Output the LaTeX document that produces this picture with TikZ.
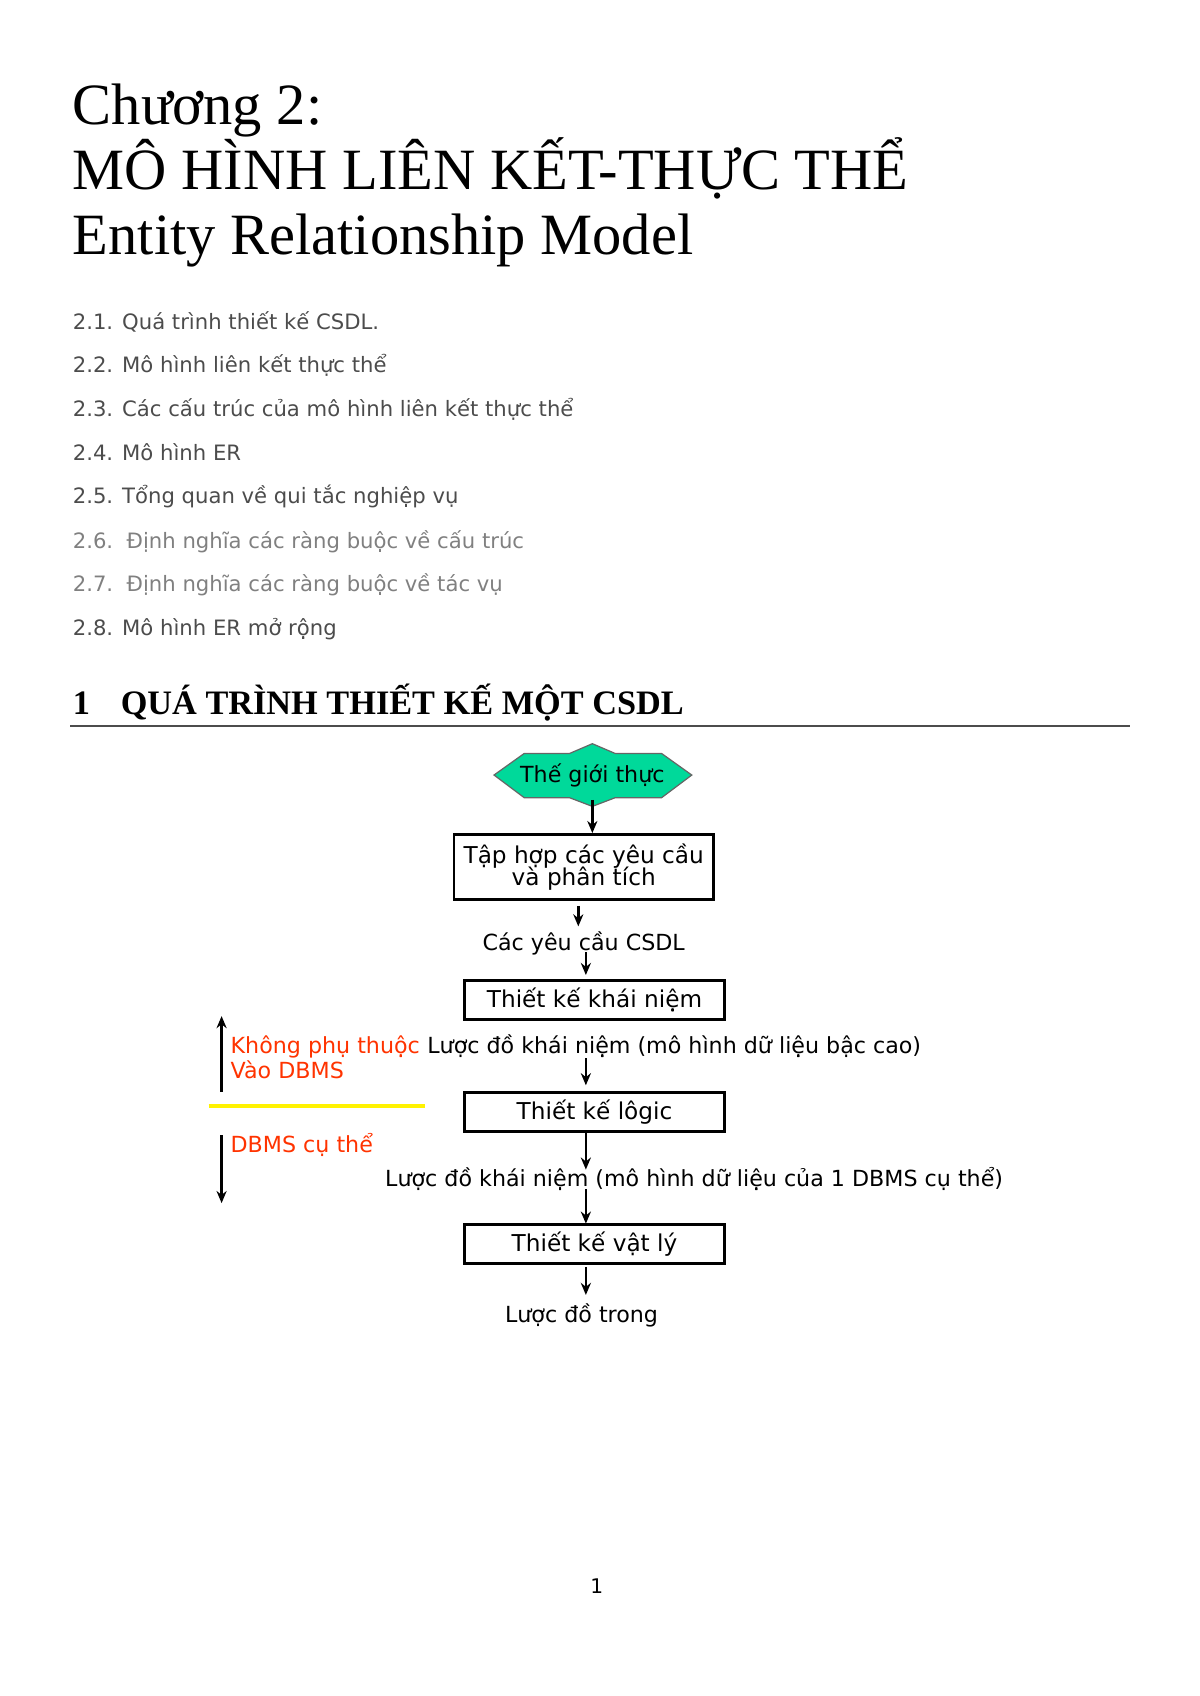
\documentclass[tikz,border=0pt]{standalone}
\usepackage{fontspec}
\setmainfont{Liberation Serif}
\newfontfamily\dv{DejaVu Sans}
\usetikzlibrary{arrows.meta}
\definecolor{tgreen}{HTML}{00D99A}
\definecolor{tred}{HTML}{FF3300}
\begin{document}
\begin{tikzpicture}[x=0.536pt,y=-0.536pt,
  title/.style={anchor=base west,inner sep=0,font=\fontsize{29}{30}\selectfont},
  item/.style={anchor=base west,inner sep=0,font=\dv\fontsize{10.5}{12}\selectfont,text=black!70},
  litem/.style={item,text=black!50},
  fbox/.style={draw,line width=1.4pt,minimum width=240*0.536pt,minimum height=36*0.536pt,inner sep=0,font=\dv\fontsize{11.5}{13}\selectfont},
  ftxt/.style={inner sep=0,font=\dv\fontsize{11}{13}\selectfont},
  rtxt/.style={ftxt,anchor=base west,text=tred},
  arr/.style={-{Stealth[length=6pt,width=5pt]},line width=1.2pt}]
\useasboundingbox (0,0) rectangle (1110,1569);
\node[title] (t1) at (67,115) {Chương 2:};
\node[title] (t2) at (67,175) {MÔ HÌNH LIÊN KẾT-THỰC THỂ};
\node[title] (t3) at (67,235) {Entity Relationship Model};
\node[item] (i1) at (67,305) {2.1. Quá trình thiết kế CSDL.};
\node[item] (i2) at (67,345) {2.2. Mô hình liên kết thực thể};
\node[item] (i3) at (67,385) {2.3. Các cấu trúc của mô hình liên kết thực thể};
\node[item] (i4) at (67,426) {2.4. Mô hình ER};
\node[item] (i5) at (67,466) {2.5. Tổng quan về qui tắc nghiệp vụ};
\node[litem] (i6) at (67,507) {2.6.\ \ Định nghĩa các ràng buộc về cấu trúc};
\node[litem] (i7) at (67,547) {2.7.\ \ Định nghĩa các ràng buộc về tác vụ};
\node[item] (i8) at (67,588) {2.8. Mô hình ER mở rộng};
\node[anchor=base west,inner sep=0,font=\bfseries\fontsize{17}{18}\selectfont] (h) at (67,661) {1\hspace{0.9em}QUÁ TRÌNH THIẾT KẾ MỘT CSDL};
\draw[line width=1pt,black!70] (65,672) -- (1045,672);
% star shape
\filldraw[fill=tgreen,draw=black!60,line width=0.6pt]
  (485,697) -- (527,697) -- (548,688) -- (569,697) -- (612,697) -- (640,717) -- (612,738) -- (569,738) -- (548,746) -- (527,738) -- (485,738) -- (457,717) -- cycle;
\node[ftxt] (s) at (548,717) {Thế giới thực};
\coordinate (sb) at (548,740);
\node[fbox,minimum width=240*0.536pt,minimum height=60*0.536pt,align=center] (b1) at (540,802) {Tập hợp các yêu cầu\\[-2pt]và phân tích};
\draw[arr] (sb) -- (b1.north -| sb);
\node[ftxt] (c1) at (540,873) {Các yêu cầu CSDL};
\draw[arr] (535,838) -- (535,857);
\node[fbox] (b2) at (550,925) {Thiết kế khái niệm};
\draw[arr] (542,881) -- (542,902);
\node[ftxt,anchor=base west] (c2) at (395,975) {Lược đồ khái niệm (mô hình dữ liệu bậc cao)};
\node[fbox] (b3) at (550,1029) {Thiết kế lôgic};
\draw[arr] (542,979) -- (542,1004);
\node[ftxt,anchor=base west] (c3) at (356,1098) {Lược đồ khái niệm (mô hình dữ liệu của 1 DBMS cụ thể)};
\draw[arr] (542,1048) -- (542,1082);
\node[fbox] (b4) at (550,1151) {Thiết kế vật lý};
\draw[arr] (542,1100) -- (542,1132);
\node[ftxt] (c4) at (538,1217) {Lược đồ trong};
\draw[arr] (542,1172) -- (542,1198);
\node[rtxt] (r1) at (213,975) {Không phụ thuộc};
\node[rtxt] (r2) at (213,998) {Vào DBMS};
\node[rtxt] (r3) at (213,1066) {DBMS cụ thể};
\draw[arr] (205,1010) -- (205,940);
\draw[arr] (205,1050) -- (205,1113);
\draw[yellow,line width=2pt] (193,1023) -- (393,1023);
\node[inner sep=0,font=\dv\fontsize{10}{12}\selectfont] (pg) at (552,1467) {1};
\end{tikzpicture}
\end{document}
